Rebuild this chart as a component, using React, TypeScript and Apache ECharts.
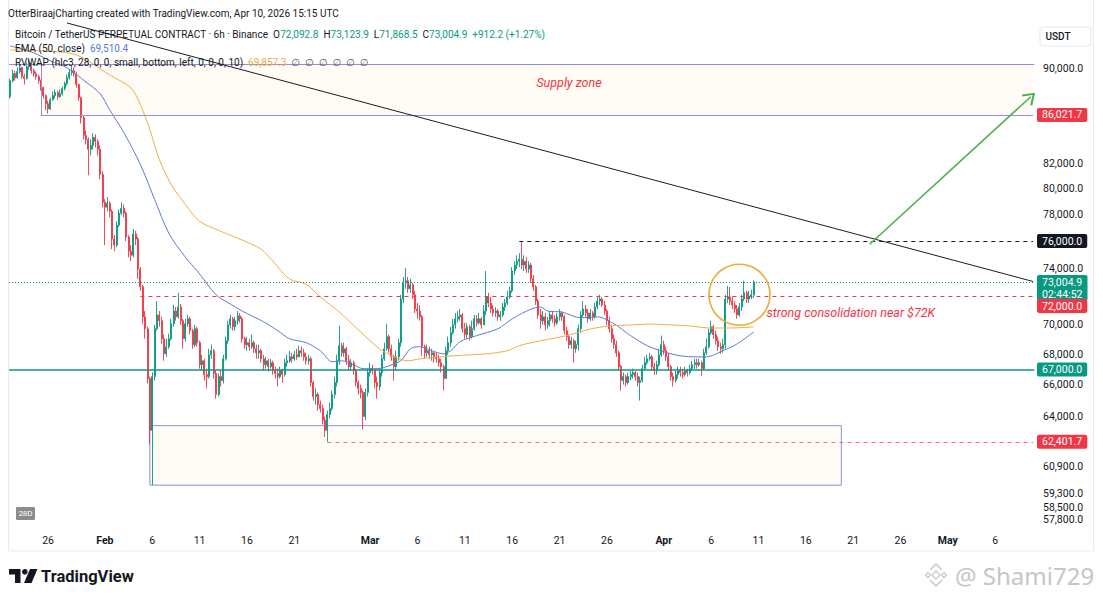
import React, { useEffect, useRef } from "react";
import * as echarts from "echarts";

const FONT = "Roboto, 'Noto Sans', 'DejaVu Sans', sans-serif";
const UP = "#089981";
const DOWN = "#f23645";
const TEAL = "#089981";
const RED = "#f23645";
const INK = "#131722";
const PURPLE = "#968cd8";
const ZONE_FILL = "rgba(250, 236, 196, 0.18)";
const EMA_COLOR = "#5a7bd8";
const RVWAP_COLOR = "#f2ab45";

// 6h slots starting 2026-01-22 00:00 UTC
const START_UTC = Date.UTC(2026, 0, 22, 0, 0);
const SLOT_COUNT = 433;

// candle data: [close, low, high]; open = previous close
const firstOpen = 87580;
const janCandles = [
  [88970,87410,89150],[89580,88800,89930],[89230,88970,89840],[89760,89150,90100],
  [90100,89580,90370],[89320,89150,90190],[89150,88630,89580],[90190,89060,90540],
  [90450,89930,90800],[89840,89580,90540],[89580,89320,90020],[89320,89060,89760],
  [88970,88710,89500],[88360,88100,89060],[87670,87410,88450],[86970,86450,87760],
  [86540,86130,87230],[87320,86450,87490],[87670,87230,88020],[87930,87410,88190],
  [87580,87320,88100],[87840,87490,88190],[88280,87670,88450],[88710,88100,88890],
  [89230,88540,89500],[89670,89060,89930],[89840,89410,90280],[89580,89320,90100],
  [88630,88360,89760],[87490,87230,88710],[85800,85300,87580],[84310,83980,85960],
  [83980,83570,84720],[83160,81070,84150],[83490,82660,83980],[84150,83160,84480],
  [83820,83320,84400],[83160,82660,83980],[81150,80760,83490],[78950,78560,81390],
];
const febCandles = [
  [78560,75700,79190],[78870,78250,79350],[78250,77800,79030],[76150,75400,78400],
  [75700,75250,76450],[77200,75550,77500],[78100,77050,78400],[78480,77950,78950],
  [78100,77800,78790],[76300,76000,78250],[75250,74800,76450],[74950,74510,75700],
  [76530,74800,76900],[76150,75700,76750],[73940,73230,76300],[72660,72370,74080],
  [70550,70070,72800],[69730,69050,70950],[66400,66080,69870],[63110,62250,66530],
  [66530,59810,66790],[69730,66270,70000],[70680,69600,71650],[70280,69870,70950],
  [69050,68710,70550],[68030,67570,69330],[68510,67830,69050],[69050,68370,69390],
  [70070,68920,70410],[70950,69870,71370],[70550,70280,71230],[71230,70410,72230],
  [70280,70000,71440],[69050,68370,70410],[70070,68850,70410],[70410,69870,70680],
  [69600,69330,70550],[68650,68370,69730],[69730,68510,70000],[68780,68510,69870],
  [67310,67050,68920],[67570,66920,67970],[66660,66270,67700],[66530,65760,67050],
  [67970,66400,68370],[68240,67700,68650],[66730,66400,68370],[65370,65110,66920],
  [66530,65240,66730],[66270,65880,66920],[67700,66080,67970],[68920,67570,69190],
  [70000,68710,70280],[70410,69730,70680],[69870,69600,70550],[70280,69600,70550],
  [70620,70000,70950],[70410,70140,70820],[69050,68780,70550],[68650,68370,69190],
  [68780,68240,69190],[68510,68240,69050],[68780,68370,69330],[68370,68100,68920],
  [68100,67700,68650],[68240,67700,68650],[67700,67440,68370],[67310,66920,67970],
  [67570,67050,67830],[67180,66860,67700],[67440,67050,67700],[66920,66660,67570],
  [66730,66400,67180],[66530,65880,67050],[66920,66400,67180],[66660,66140,67050],
  [67440,66530,67700],[67570,67180,67970],[67830,67440,68240],[67700,67440,68100],
  [67970,67570,68240],[67830,67630,68370],[68240,67830,68580],[68100,67830,68510],
  [67830,67570,68370],[67570,67310,68100],[67700,67310,67970],[66140,65880,67830],
  [65240,64980,66270],[65370,64720,65760],[64720,64340,65500],[64470,64220,64980],
  [63730,63480,64720],[63110,62700,63970],[64100,62401.7,64340],[64470,63850,64850],
  [65370,64340,65630],[66140,65110,66530],[67570,65880,67970],[68580,67310,69940],
  [68100,67830,68780],[68370,67830,68780],[67570,67310,68510],[67180,66920,67970],
  [67440,66920,67700],[66920,66660,67570],[66140,65880,67050],[65760,65370,66270],
  [65500,65110,66010],[63970,63170,65630],[65500,63730,65760],[66790,65240,67050],
];
const marCandles = [
  [67050,66530,67440],[66920,66660,67310],[66140,65760,67050],[65880,65110,66530],
  [66790,65630,67050],[67700,66530,67970],[68370,67570,68780],[69190,68240,70070],
  [68370,68100,69330],[67830,67570,68650],[67180,66270,67970],[67830,66920,68240],
  [68780,67570,69050],[71790,68510,72080],[72940,71510,73370],[73090,72520,74010],
  [72520,72230,73370],[72800,72230,73230],[72090,71800,72940],[71090,70820,72370],
  [70950,70410,71510],[70550,70280,71370],[68510,67900,70680],[68100,67700,68650],
  [68240,67830,68650],[67970,67700,68510],[68100,67570,68370],[67830,67440,68240],
  [67700,67440,68100],[67440,67180,67970],[67180,66790,67700],[66400,65630,67310],
  [68240,66400,68510],[68780,67970,69190],[69460,68510,69870],[70000,69330,70410],
  [70410,69730,70820],[70550,70140,70950],[70680,70280,71090],[69730,69460,70820],
  [69330,69050,70140],[69870,69050,70140],[69190,68920,70000],[69730,69050,70280],
  [70410,69600,70680],[70140,69870,70680],[70410,70000,70820],[70000,69730,70550],
  [70950,70000,71370],[71940,70680,73800],[71510,71230,72230],[71090,70820,71940],
  [70820,70550,71370],[70950,70550,71230],[70550,70280,71090],[70680,70280,70950],
  [71230,70550,71510],[71510,70950,71800],[71940,71370,72370],[72370,71800,72660],
  [73800,72230,74080],[74230,73510,74510],[74510,73940,74950],[74660,74080,75100],
  [74230,73940,76000],[74510,73800,74950],[73940,73660,74800],[74230,73660,74510],
  [73230,72940,74370],[72660,72370,73510],[71650,71370,72800],[70680,70410,71800],
  [70280,69730,71090],[70550,70000,70950],[70000,69600,70820],[70280,69730,70550],
  [70680,69870,70950],[70410,70140,70950],[70140,69870,70680],[70550,70000,70820],
  [70820,70280,71090],[70550,70280,70950],[69600,69330,70680],[69190,68920,69870],
  [68650,68370,69330],[68920,68370,69190],[68370,67440,69050],[68650,68100,68920],
  [69730,68240,70000],[70680,69460,70950],[71090,70550,71650],[70820,70550,71370],
  [70410,70140,71090],[70820,70280,71090],[70550,70280,70950],[71230,70410,71510],
  [71650,71090,71940],[71800,71370,72090],[71370,71230,71940],[70950,70680,71650],
  [70280,70000,71090],[69730,69460,70550],[69050,68780,70000],[68650,68370,69330],
  [68100,67830,68920],[67180,66920,68240],[66270,65630,67310],[66530,66010,66790],
  [66140,65880,66660],[66530,66010,66790],[66660,66270,66920],[66790,66400,67050],
  [66530,66270,66920],[66140,65880,66790],[66270,64980,66530],[67050,66140,67310],
  [67440,66920,67830],[67700,67310,67970],[67830,67570,68100],[67180,66920,67970],
  [66920,66660,67440],[67310,66660,67570],[67970,67180,68370],[68650,67830,69260],
];
const aprCandles = [
  [68240,67970,68920],[67830,67570,68510],[67180,66920,68100],[66530,66270,67310],
  [66270,65880,66790],[66660,66140,66920],[66920,66400,67180],[66790,66530,67180],
  [66660,66400,67050],[66920,66530,67180],[66790,66530,67050],[67050,66660,67310],
  [67310,66920,67570],[67440,67050,67700],[67310,67050,67700],[67440,67180,67700],
  [67050,66590,67570],[68100,66920,68370],[68510,67970,69050],[69460,68370,69730],
  [69870,69330,70280],[69330,69050,70000],[68920,68650,69600],[68510,68240,69190],
  [68370,68030,68780],[68650,68100,69050],[71790,68370,72080],[71940,71510,72730],
  [71650,71370,72660],[71370,71090,71940],[71090,70820,71650],[70680,70410,71370],
  [71230,70550,71510],[71790,70950,72080],[72230,71650,73090],[71790,71510,72370],
  [71940,71510,72370],[72092.8,71790,72450],[73004.9,71868.5,73123.9],
];

// indicator lines: [slot index, value]
const emaPoints = [
  [0,92050],[9,91510],[17,90710],[24,90090],[32,88850],[38,87830],[42,86460],[48,84540],
  [55,81930],[61,79170],[67,76580],[74,74800],[79,73800],[87,72090],[93,71440],[98,70950],
  [107,70210],[113,69600],[118,69050],[125,68780],[131,68240],[136,67500],[140,67570],
  [145,67310],[149,67050],[155,67050],[160,67240],[165,67570],[169,68370],[173,68510],
  [178,68240],[183,68030],[186,68240],[190,68850],[197,69260],[206,69730],[212,70410],
  [220,71090],[224,71230],[227,70950],[233,70880],[241,70480],[248,70550],[255,70070],
  [262,69260],[269,68580],[276,68170],[283,67900],[290,67830],[294,67830],[301,68240],
  [307,68700],[314,69510.4],
];
const rvwapPoints = [
  [0,91700],[13,91600],[28,91240],[42,89470],[51,88340],[55,86890],[59,84790],[63,82330],
  [68,80340],[74,78780],[80,77490],[89,76730],[99,76000],[106,75390],[111,74510],[118,73210],
  [125,72850],[131,71930],[139,70880],[148,69510],[156,68360],[162,67830],[168,67570],
  [173,67700],[187,67900],[201,68030],[210,68240],[215,68580],[224,68920],[228,69030],
  [236,69300],[245,69710],[253,69920],[262,69990],[270,70050],[279,69990],[287,69920],
  [296,69780],[304,69780],[314,69857.3],
];

// x-axis ticks
const tickDates = ["2026-01-26","2026-02-01","2026-02-06","2026-02-11","2026-02-16","2026-02-21","2026-03-01","2026-03-06","2026-03-11","2026-03-16","2026-03-21","2026-03-26","2026-04-01","2026-04-06","2026-04-11","2026-04-16","2026-04-21","2026-04-26","2026-05-01","2026-05-06"];
const tickLabels = ["26","Feb","6","11","16","21","Mar","6","11","16","21","26","Apr","6","11","16","21","26","May","6"];
const monthLabels = ["Feb","Mar","Apr","May"];

// price-scale labels
const yTickValues = [90000, 82000, 80000, 78000, 74000, 70000, 68000, 66000, 64000, 60900, 59300, 58500, 57800];

// drawn levels
const supplyTop = 90450;
const supplyBottom = 86021.7;
const demandTop = 63400;
const demandBottom = 59800;
const level76 = 76000;
const level72 = 72000;
const level67 = 67000;
const lowLevel = 62401.7;
const lastPrice = 73004.9;
const countdown = "02:44:52";

const pad = (n: number) => (n < 10 ? "0" + n : "" + n);
const cats = Array.from({ length: SLOT_COUNT }, (_, k) => {
  const d = new Date(START_UTC + k * 6 * 3600 * 1000);
  return `${d.getUTCFullYear()}-${pad(d.getUTCMonth() + 1)}-${pad(d.getUTCDate())} ${pad(d.getUTCHours())}:00`;
});
const tickMap: Record<string, string> = {};
tickDates.forEach((d, i) => (tickMap[d + " 00:00"] = tickLabels[i]));

const fmt = (v: number) =>
  v.toLocaleString("en-US", { minimumFractionDigits: 1, maximumFractionDigits: 1 });

function buildOhlc() {
  const all = [...janCandles, ...febCandles, ...marCandles, ...aprCandles];
  let prev = firstOpen;
  return all.map(([c, l, h]) => {
    const o = prev;
    prev = c;
    return [o, c, Math.min(l, o, c), Math.max(h, o, c)];
  });
}

const HIDDEN_LINE = { width: 0, color: "rgba(0,0,0,0)" };
const LAST = SLOT_COUNT - 1;

function plainLabel(v: number) {
  return {
    yAxis: v,
    lineStyle: HIDDEN_LINE,
    label: { show: true, position: "end", distance: 8.7, formatter: fmt(v), color: INK, fontSize: 10.5, fontFamily: FONT },
  };
}
function boxLabel(v: number, text: string, bg: string) {
  return {
    yAxis: v,
    lineStyle: HIDDEN_LINE,
    label: {
      show: true, position: "end", distance: 2.7, formatter: text, color: "#ffffff",
      backgroundColor: bg, padding: [1, 5, 1, 5], borderRadius: 2, fontSize: 10.5, lineHeight: 12, fontFamily: FONT,
    },
  };
}
function segment(fromIdx: number, v1: number, toIdx: number, v2: number, lineStyle: any, extraEnd: any = {}) {
  return [
    { coord: [cats[fromIdx], v1], lineStyle, symbol: "none" },
    { coord: [cats[toIdx], v2], lineStyle, symbol: "none", ...extraEnd },
  ];
}

const CHEVRON = "path://M5,0 L10,8.5 L8.9,9.4 L5,2.8 L1.1,9.4 L0,8.5 Z";

function buildOption() {
  const ohlc = buildOhlc();
  const zoneLine = { color: PURPLE, width: 1, type: "solid" };
  const markLines: any[] = [
    { yAxis: supplyTop, lineStyle: zoneLine },
    segment(13, supplyBottom, LAST, supplyBottom, zoneLine),
    segment(13, supplyTop, 13, supplyBottom, zoneLine),
    { yAxis: level67, lineStyle: { color: TEAL, width: 1.7, type: "solid" } },
    { yAxis: lastPrice, lineStyle: { color: TEAL, width: 1, type: [1, 2] } },
    segment(55, level72, LAST, level72, { color: RED, width: 1, type: [4, 4] }),
    segment(215, level76, LAST, level76, { color: INK, width: 1, type: [4, 4] }),
    segment(134, lowLevel, LAST, lowLevel, { color: "#ef6f7b", width: 1, type: [4, 4] }),
    segment(24, 94150, LAST, 73040, { color: "#1c1c1c", width: 1, type: "solid" }),
    segment(363, 75760, 431, 87570, { color: "#4caf50", width: 1.6, type: "solid" }, { symbol: CHEVRON, symbolSize: [15, 12] }),
    ...yTickValues.map(plainLabel),
    boxLabel(supplyBottom, fmt(supplyBottom), RED),
    boxLabel(level76, fmt(level76), INK),
    boxLabel(72570, fmt(lastPrice) + "\n" + countdown, TEAL),
    boxLabel(71300, fmt(level72), RED),
    boxLabel(level67, fmt(level67), TEAL),
    boxLabel(lowLevel, fmt(lowLevel), RED),
  ];

  return {
    animation: false,
    backgroundColor: "#ffffff",
    grid: { left: 9, right: 68.7, top: 22, bottom: 74, outerBoundsMode: "none", containLabel: false },
    xAxis: {
      type: "category",
      data: cats,
      boundaryGap: true,
      axisLine: { show: false },
      axisTick: { show: false },
      splitLine: { show: false },
      axisLabel: {
        interval: (index: number, value: string) => tickMap[value] !== undefined,
        formatter: (value: string) => {
          const t = tickMap[value];
          if (t === undefined) return "";
          return monthLabels.includes(t) ? `{m|${t}}` : t;
        },
        hideOverlap: false,
        color: INK,
        fontSize: 10.5,
        fontFamily: FONT,
        margin: 9,
        rich: { m: { fontWeight: "bold", fontSize: 10.5, color: INK, fontFamily: FONT } },
      },
    },
    yAxis: {
      type: "log",
      logBase: 10,
      min: 57450,
      max: 94240,
      position: "right",
      axisLine: { show: false },
      axisTick: { show: false },
      axisLabel: { show: false },
      splitLine: { show: false },
    },
    series: [
      {
        type: "candlestick",
        data: ohlc,
        barWidth: 1.5,
        clip: false,
        itemStyle: { color: UP, color0: DOWN, borderColor: UP, borderColor0: DOWN, borderWidth: 0.9 },
        emphasis: { disabled: true },
        markArea: {
          silent: true,
          label: { show: false },
          data: [
            [{ xAxis: cats[13], yAxis: supplyTop, itemStyle: { color: ZONE_FILL, borderWidth: 0 } }, { xAxis: cats[LAST], yAxis: supplyBottom }],
            [{ xAxis: cats[59], yAxis: demandTop, itemStyle: { color: ZONE_FILL, borderColor: PURPLE, borderWidth: 1 } }, { xAxis: cats[351], yAxis: demandBottom }],
          ],
        },
        markLine: {
          silent: true,
          symbol: ["none", "none"],
          label: { show: false },
          emphasis: { disabled: true },
          data: markLines,
        },
        markPoint: {
          silent: true,
          data: [
            {
              coord: [cats[308], 72100], symbol: "circle", symbolSize: 61,
              itemStyle: { color: "rgba(0,0,0,0)", borderColor: "#eeaa3c", borderWidth: 1.6 },
              label: { show: false },
            },
            {
              coord: [cats[236], 88800], symbol: "circle", symbolSize: 1,
              itemStyle: { color: "rgba(0,0,0,0)" },
              label: { show: true, position: "inside", formatter: "Supply zone", color: RED, fontStyle: "italic", fontSize: 12.5, fontFamily: FONT },
            },
            {
              coord: [cats[355], 70820], symbol: "circle", symbolSize: 1,
              itemStyle: { color: "rgba(0,0,0,0)" },
              label: { show: true, position: "inside", formatter: "strong consolidation near $72K", color: RED, fontStyle: "italic", fontSize: 12.5, fontFamily: FONT },
            },
          ],
        },
      },
      {
        type: "line",
        data: emaPoints,
        symbol: "none",
        smooth: 0.3,
        lineStyle: { color: EMA_COLOR, width: 1 },
        emphasis: { disabled: true },
        z: 3,
      },
      {
        type: "line",
        data: rvwapPoints,
        symbol: "none",
        smooth: 0.3,
        lineStyle: { color: RVWAP_COLOR, width: 1 },
        emphasis: { disabled: true },
        z: 3,
      },
    ],
    graphic: [
      { type: "rect", z: 0, silent: true, shape: { x: 8.5, y: -1, width: 1085, height: 552 }, style: { fill: "none", stroke: "#ebebeb", lineWidth: 1 } },
      {
        type: "text", z: 100, x: 8, y: 13, silent: true,
        style: { text: "OtterBiraajCharting created with TradingView.com, Apr 10, 2026 15:15 UTC", fill: INK, fontSize: 10, fontFamily: FONT, verticalAlign: "middle" },
      },
      {
        type: "text", z: 100, x: 15, y: 34.5, silent: true,
        style: {
          text: "{d|Bitcoin / TetherUS PERPETUAL CONTRACT · 6h · Binance  O}{g|72,092.8}{d|  H}{g|73,123.9}{d|  L}{g|71,868.5}{d|  C}{g|73,004.9}{g|  +912.2 (+1.27%)}",
          verticalAlign: "middle",
          rich: {
            d: { fill: INK, fontSize: 10, fontFamily: FONT },
            g: { fill: TEAL, fontSize: 10, fontFamily: FONT },
          },
        },
      },
      {
        type: "text", z: 100, x: 15, y: 48.5, silent: true,
        style: {
          text: "{d|EMA (50, close)}{b|  69,510.4}",
          verticalAlign: "middle",
          rich: {
            d: { fill: INK, fontSize: 10, fontFamily: FONT },
            b: { fill: EMA_COLOR, fontSize: 10, fontFamily: FONT },
          },
        },
      },
      {
        type: "text", z: 100, x: 15, y: 62.5, silent: true,
        style: {
          text: "{d|RVWAP (hlc3, 28, 0, 0, small, bottom, left, 0, 0, 0, 10)}{o|  69,857.3}{n|  ∅  ∅  ∅  ∅  ∅  ∅}",
          verticalAlign: "middle",
          rich: {
            d: { fill: INK, fontSize: 10, fontFamily: FONT },
            o: { fill: RVWAP_COLOR, fontSize: 10, fontFamily: FONT },
            n: { fill: "#555555", fontSize: 10, fontFamily: FONT },
          },
        },
      },
      { type: "rect", z: 100, silent: true, shape: { x: 1040, y: 27, width: 51, height: 19, r: 3 }, style: { fill: "#ffffff", stroke: "#e6e8ee", lineWidth: 1 } },
      { type: "text", z: 101, silent: true, x: 1058, y: 36.5, style: { text: "USDT", fill: INK, fontSize: 10, fontWeight: 500, fontFamily: FONT, align: "center", verticalAlign: "middle" } },
      { type: "rect", z: 100, silent: true, shape: { x: 16, y: 507, width: 19, height: 13, r: 1 }, style: { fill: "#8c8c8c" } },
      { type: "text", z: 101, silent: true, x: 25.5, y: 513.5, style: { text: "28D", fill: "#ffffff", fontSize: 8, fontFamily: FONT, align: "center", verticalAlign: "middle" } },
      // TradingView logo
      { type: "polygon", z: 100, silent: true, shape: { points: [[9, 569], [20.5, 569], [20.5, 583], [15, 583], [15, 574.5], [9, 574.5]] }, style: { fill: INK } },
      { type: "circle", z: 100, silent: true, shape: { cx: 24.8, cy: 571.8, r: 2.8 }, style: { fill: INK } },
      { type: "polygon", z: 100, silent: true, shape: { points: [[30, 569], [37.5, 569], [31.5, 583], [24, 583]] }, style: { fill: INK } },
      { type: "text", z: 100, silent: true, x: 41, y: 576.5, style: { text: "TradingView", fill: INK, fontSize: 16.5, fontWeight: "bold", fontFamily: FONT, verticalAlign: "middle" } },
      // watermark
      { type: "polygon", z: 100, silent: true, shape: { points: [[936, 571], [940, 575], [936, 579], [932, 575]] }, style: { fill: "none", stroke: "#cccccc", lineWidth: 1.4 } },
      { type: "polygon", z: 100, silent: true, shape: { points: [[928, 572.5], [930.5, 575], [928, 577.5], [925.5, 575]] }, style: { fill: "none", stroke: "#cccccc", lineWidth: 1.4 } },
      { type: "polygon", z: 100, silent: true, shape: { points: [[944, 572.5], [946.5, 575], [944, 577.5], [941.5, 575]] }, style: { fill: "none", stroke: "#cccccc", lineWidth: 1.4 } },
      { type: "polyline", z: 100, silent: true, shape: { points: [[930, 570], [936, 564], [942, 570]] }, style: { fill: "none", stroke: "#cccccc", lineWidth: 1.6 } },
      { type: "polyline", z: 100, silent: true, shape: { points: [[930, 580], [936, 586], [942, 580]] }, style: { fill: "none", stroke: "#cccccc", lineWidth: 1.6 } },
      { type: "text", z: 100, silent: true, x: 955, y: 575.5, style: { text: "@ Shami729", fill: "#c6c6c6", fontSize: 24, fontFamily: "'Noto Sans', 'Open Sans', sans-serif", verticalAlign: "middle" } },
    ],
  };
}

export default function App() {
  const ref = useRef<HTMLDivElement>(null);
  useEffect(() => {
    document.body.style.margin = "0";
    const chart = echarts.init(ref.current as HTMLDivElement, null, { renderer: "svg" });
    chart.setOption(buildOption() as any);
    return () => chart.dispose();
  }, []);
  return <div ref={ref} style={{ width: 1103, height: 600, background: "#ffffff" }} />;
}
